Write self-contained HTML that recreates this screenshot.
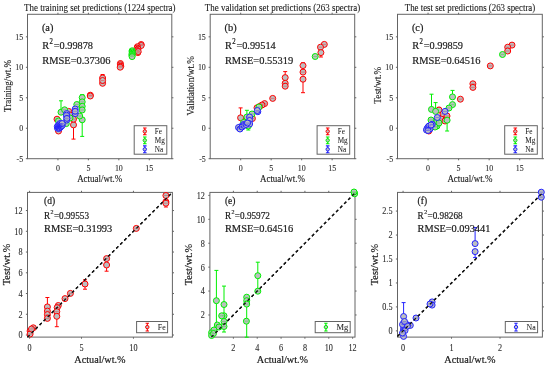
<!DOCTYPE html>
<html><head><meta charset="utf-8"><style>
html,body{margin:0;padding:0;background:#fff;width:550px;height:369px;overflow:hidden}
</style></head><body>
<svg width="550" height="369" viewBox="0 0 550 369" style="display:block;will-change:transform">
<rect width="550" height="369" fill="#fff"/>
<g font-family='"Liberation Serif", serif'>
<text x="99.80" y="11.00" font-size="10.0" text-anchor="middle" fill="#1a1a1a" stroke="#1a1a1a" stroke-width="0.1" textLength="151.5" lengthAdjust="spacingAndGlyphs" >The training set predictions (1224 spectra)</text>
<text x="282.50" y="11.00" font-size="10.0" text-anchor="middle" fill="#1a1a1a" stroke="#1a1a1a" stroke-width="0.1" textLength="155.5" lengthAdjust="spacingAndGlyphs" >The validation set predictions (263 spectra)</text>
<text x="470.00" y="11.00" font-size="10.0" text-anchor="middle" fill="#1a1a1a" stroke="#1a1a1a" stroke-width="0.1" textLength="130.5" lengthAdjust="spacingAndGlyphs" >The test set predictions (263 spectra)</text>
<rect x="27.5" y="14.3" width="144.30" height="144.40" fill="none" stroke="#646464" stroke-width="1"/>
<path d="M57.94 158.7 v1.6 M57.94 14.3 v-1.6" stroke="#646464" stroke-width="1"/>
<text x="57.94" y="171.30" font-size="8.6" text-anchor="middle" fill="#2a2a2a" stroke="#2a2a2a" stroke-width="0.1" textLength="3.96" lengthAdjust="spacingAndGlyphs" >0</text>
<path d="M88.39 158.7 v1.6 M88.39 14.3 v-1.6" stroke="#646464" stroke-width="1"/>
<text x="88.39" y="171.30" font-size="8.6" text-anchor="middle" fill="#2a2a2a" stroke="#2a2a2a" stroke-width="0.1" textLength="3.96" lengthAdjust="spacingAndGlyphs" >5</text>
<path d="M118.83 158.7 v1.6 M118.83 14.3 v-1.6" stroke="#646464" stroke-width="1"/>
<text x="118.83" y="171.30" font-size="8.6" text-anchor="middle" fill="#2a2a2a" stroke="#2a2a2a" stroke-width="0.1" textLength="7.91" lengthAdjust="spacingAndGlyphs" >10</text>
<path d="M149.27 158.7 v1.6 M149.27 14.3 v-1.6" stroke="#646464" stroke-width="1"/>
<text x="149.27" y="171.30" font-size="8.6" text-anchor="middle" fill="#2a2a2a" stroke="#2a2a2a" stroke-width="0.1" textLength="7.91" lengthAdjust="spacingAndGlyphs" >15</text>
<path d="M27.5 158.70 h-1.6 M171.8 158.70 h1.6" stroke="#646464" stroke-width="1"/>
<text x="23.10" y="161.60" font-size="8.6" text-anchor="end" fill="#2a2a2a" stroke="#2a2a2a" stroke-width="0.1" textLength="6.59" lengthAdjust="spacingAndGlyphs" >-5</text>
<path d="M27.5 128.24 h-1.6 M171.8 128.24 h1.6" stroke="#646464" stroke-width="1"/>
<text x="23.10" y="131.14" font-size="8.6" text-anchor="end" fill="#2a2a2a" stroke="#2a2a2a" stroke-width="0.1" textLength="3.96" lengthAdjust="spacingAndGlyphs" >0</text>
<path d="M27.5 97.77 h-1.6 M171.8 97.77 h1.6" stroke="#646464" stroke-width="1"/>
<text x="23.10" y="100.67" font-size="8.6" text-anchor="end" fill="#2a2a2a" stroke="#2a2a2a" stroke-width="0.1" textLength="3.96" lengthAdjust="spacingAndGlyphs" >5</text>
<path d="M27.5 67.31 h-1.6 M171.8 67.31 h1.6" stroke="#646464" stroke-width="1"/>
<text x="23.10" y="70.21" font-size="8.6" text-anchor="end" fill="#2a2a2a" stroke="#2a2a2a" stroke-width="0.1" textLength="7.91" lengthAdjust="spacingAndGlyphs" >10</text>
<path d="M27.5 36.84 h-1.6 M171.8 36.84 h1.6" stroke="#646464" stroke-width="1"/>
<text x="23.10" y="39.74" font-size="8.6" text-anchor="end" fill="#2a2a2a" stroke="#2a2a2a" stroke-width="0.1" textLength="7.91" lengthAdjust="spacingAndGlyphs" >15</text>
<rect x="210.2" y="14.3" width="144.50" height="144.40" fill="none" stroke="#646464" stroke-width="1"/>
<path d="M240.69 158.7 v1.6 M240.69 14.3 v-1.6" stroke="#646464" stroke-width="1"/>
<text x="240.69" y="171.30" font-size="8.6" text-anchor="middle" fill="#2a2a2a" stroke="#2a2a2a" stroke-width="0.1" textLength="3.96" lengthAdjust="spacingAndGlyphs" >0</text>
<path d="M271.17 158.7 v1.6 M271.17 14.3 v-1.6" stroke="#646464" stroke-width="1"/>
<text x="271.17" y="171.30" font-size="8.6" text-anchor="middle" fill="#2a2a2a" stroke="#2a2a2a" stroke-width="0.1" textLength="3.96" lengthAdjust="spacingAndGlyphs" >5</text>
<path d="M301.66 158.7 v1.6 M301.66 14.3 v-1.6" stroke="#646464" stroke-width="1"/>
<text x="301.66" y="171.30" font-size="8.6" text-anchor="middle" fill="#2a2a2a" stroke="#2a2a2a" stroke-width="0.1" textLength="7.91" lengthAdjust="spacingAndGlyphs" >10</text>
<path d="M332.14 158.7 v1.6 M332.14 14.3 v-1.6" stroke="#646464" stroke-width="1"/>
<text x="332.14" y="171.30" font-size="8.6" text-anchor="middle" fill="#2a2a2a" stroke="#2a2a2a" stroke-width="0.1" textLength="7.91" lengthAdjust="spacingAndGlyphs" >15</text>
<path d="M210.2 158.70 h-1.6 M354.7 158.70 h1.6" stroke="#646464" stroke-width="1"/>
<text x="205.80" y="161.60" font-size="8.6" text-anchor="end" fill="#2a2a2a" stroke="#2a2a2a" stroke-width="0.1" textLength="6.59" lengthAdjust="spacingAndGlyphs" >-5</text>
<path d="M210.2 128.24 h-1.6 M354.7 128.24 h1.6" stroke="#646464" stroke-width="1"/>
<text x="205.80" y="131.14" font-size="8.6" text-anchor="end" fill="#2a2a2a" stroke="#2a2a2a" stroke-width="0.1" textLength="3.96" lengthAdjust="spacingAndGlyphs" >0</text>
<path d="M210.2 97.77 h-1.6 M354.7 97.77 h1.6" stroke="#646464" stroke-width="1"/>
<text x="205.80" y="100.67" font-size="8.6" text-anchor="end" fill="#2a2a2a" stroke="#2a2a2a" stroke-width="0.1" textLength="3.96" lengthAdjust="spacingAndGlyphs" >5</text>
<path d="M210.2 67.31 h-1.6 M354.7 67.31 h1.6" stroke="#646464" stroke-width="1"/>
<text x="205.80" y="70.21" font-size="8.6" text-anchor="end" fill="#2a2a2a" stroke="#2a2a2a" stroke-width="0.1" textLength="7.91" lengthAdjust="spacingAndGlyphs" >10</text>
<path d="M210.2 36.84 h-1.6 M354.7 36.84 h1.6" stroke="#646464" stroke-width="1"/>
<text x="205.80" y="39.74" font-size="8.6" text-anchor="end" fill="#2a2a2a" stroke="#2a2a2a" stroke-width="0.1" textLength="7.91" lengthAdjust="spacingAndGlyphs" >15</text>
<rect x="397.5" y="14.3" width="144.80" height="144.40" fill="none" stroke="#646464" stroke-width="1"/>
<path d="M428.05 158.7 v1.6 M428.05 14.3 v-1.6" stroke="#646464" stroke-width="1"/>
<text x="428.05" y="171.30" font-size="8.6" text-anchor="middle" fill="#2a2a2a" stroke="#2a2a2a" stroke-width="0.1" textLength="3.96" lengthAdjust="spacingAndGlyphs" >0</text>
<path d="M458.60 158.7 v1.6 M458.60 14.3 v-1.6" stroke="#646464" stroke-width="1"/>
<text x="458.60" y="171.30" font-size="8.6" text-anchor="middle" fill="#2a2a2a" stroke="#2a2a2a" stroke-width="0.1" textLength="3.96" lengthAdjust="spacingAndGlyphs" >5</text>
<path d="M489.15 158.7 v1.6 M489.15 14.3 v-1.6" stroke="#646464" stroke-width="1"/>
<text x="489.15" y="171.30" font-size="8.6" text-anchor="middle" fill="#2a2a2a" stroke="#2a2a2a" stroke-width="0.1" textLength="7.91" lengthAdjust="spacingAndGlyphs" >10</text>
<path d="M519.69 158.7 v1.6 M519.69 14.3 v-1.6" stroke="#646464" stroke-width="1"/>
<text x="519.69" y="171.30" font-size="8.6" text-anchor="middle" fill="#2a2a2a" stroke="#2a2a2a" stroke-width="0.1" textLength="7.91" lengthAdjust="spacingAndGlyphs" >15</text>
<path d="M397.5 158.70 h-1.6 M542.3 158.70 h1.6" stroke="#646464" stroke-width="1"/>
<text x="393.10" y="161.60" font-size="8.6" text-anchor="end" fill="#2a2a2a" stroke="#2a2a2a" stroke-width="0.1" textLength="6.59" lengthAdjust="spacingAndGlyphs" >-5</text>
<path d="M397.5 128.24 h-1.6 M542.3 128.24 h1.6" stroke="#646464" stroke-width="1"/>
<text x="393.10" y="131.14" font-size="8.6" text-anchor="end" fill="#2a2a2a" stroke="#2a2a2a" stroke-width="0.1" textLength="3.96" lengthAdjust="spacingAndGlyphs" >0</text>
<path d="M397.5 97.77 h-1.6 M542.3 97.77 h1.6" stroke="#646464" stroke-width="1"/>
<text x="393.10" y="100.67" font-size="8.6" text-anchor="end" fill="#2a2a2a" stroke="#2a2a2a" stroke-width="0.1" textLength="3.96" lengthAdjust="spacingAndGlyphs" >5</text>
<path d="M397.5 67.31 h-1.6 M542.3 67.31 h1.6" stroke="#646464" stroke-width="1"/>
<text x="393.10" y="70.21" font-size="8.6" text-anchor="end" fill="#2a2a2a" stroke="#2a2a2a" stroke-width="0.1" textLength="7.91" lengthAdjust="spacingAndGlyphs" >10</text>
<path d="M397.5 36.84 h-1.6 M542.3 36.84 h1.6" stroke="#646464" stroke-width="1"/>
<text x="393.10" y="39.74" font-size="8.6" text-anchor="end" fill="#2a2a2a" stroke="#2a2a2a" stroke-width="0.1" textLength="7.91" lengthAdjust="spacingAndGlyphs" >15</text>
<rect x="27.5" y="192.4" width="144.90" height="144.70" fill="none" stroke="#646464" stroke-width="1"/>
<path d="M29.58 337.1 v1.6 M29.58 192.4 v-1.6" stroke="#646464" stroke-width="1"/>
<text x="29.58" y="350.60" font-size="9.5" text-anchor="middle" fill="#2a2a2a" stroke="#2a2a2a" stroke-width="0.1" textLength="4.08" lengthAdjust="spacingAndGlyphs" >0</text>
<path d="M81.51 337.1 v1.6 M81.51 192.4 v-1.6" stroke="#646464" stroke-width="1"/>
<text x="81.51" y="350.60" font-size="9.5" text-anchor="middle" fill="#2a2a2a" stroke="#2a2a2a" stroke-width="0.1" textLength="4.08" lengthAdjust="spacingAndGlyphs" >5</text>
<path d="M133.45 337.1 v1.6 M133.45 192.4 v-1.6" stroke="#646464" stroke-width="1"/>
<text x="133.45" y="350.60" font-size="9.5" text-anchor="middle" fill="#2a2a2a" stroke="#2a2a2a" stroke-width="0.1" textLength="8.17" lengthAdjust="spacingAndGlyphs" >10</text>
<path d="M27.5 335.03 h-1.6 M172.4 335.03 h1.6" stroke="#646464" stroke-width="1"/>
<text x="22.50" y="338.43" font-size="9.5" text-anchor="end" fill="#2a2a2a" stroke="#2a2a2a" stroke-width="0.1" textLength="4.08" lengthAdjust="spacingAndGlyphs" >0</text>
<path d="M27.5 314.28 h-1.6 M172.4 314.28 h1.6" stroke="#646464" stroke-width="1"/>
<text x="22.50" y="317.68" font-size="9.5" text-anchor="end" fill="#2a2a2a" stroke="#2a2a2a" stroke-width="0.1" textLength="4.08" lengthAdjust="spacingAndGlyphs" >2</text>
<path d="M27.5 293.53 h-1.6 M172.4 293.53 h1.6" stroke="#646464" stroke-width="1"/>
<text x="22.50" y="296.93" font-size="9.5" text-anchor="end" fill="#2a2a2a" stroke="#2a2a2a" stroke-width="0.1" textLength="4.08" lengthAdjust="spacingAndGlyphs" >4</text>
<path d="M27.5 272.79 h-1.6 M172.4 272.79 h1.6" stroke="#646464" stroke-width="1"/>
<text x="22.50" y="276.19" font-size="9.5" text-anchor="end" fill="#2a2a2a" stroke="#2a2a2a" stroke-width="0.1" textLength="4.08" lengthAdjust="spacingAndGlyphs" >6</text>
<path d="M27.5 252.04 h-1.6 M172.4 252.04 h1.6" stroke="#646464" stroke-width="1"/>
<text x="22.50" y="255.44" font-size="9.5" text-anchor="end" fill="#2a2a2a" stroke="#2a2a2a" stroke-width="0.1" textLength="4.08" lengthAdjust="spacingAndGlyphs" >8</text>
<path d="M27.5 231.30 h-1.6 M172.4 231.30 h1.6" stroke="#646464" stroke-width="1"/>
<text x="22.50" y="234.70" font-size="9.5" text-anchor="end" fill="#2a2a2a" stroke="#2a2a2a" stroke-width="0.1" textLength="8.17" lengthAdjust="spacingAndGlyphs" >10</text>
<path d="M27.5 210.55 h-1.6 M172.4 210.55 h1.6" stroke="#646464" stroke-width="1"/>
<text x="22.50" y="213.95" font-size="9.5" text-anchor="end" fill="#2a2a2a" stroke="#2a2a2a" stroke-width="0.1" textLength="8.17" lengthAdjust="spacingAndGlyphs" >12</text>
<rect x="209.9" y="192.4" width="145.10" height="144.70" fill="none" stroke="#646464" stroke-width="1"/>
<path d="M233.39 337.1 v1.6 M233.39 192.4 v-1.6" stroke="#646464" stroke-width="1"/>
<text x="233.39" y="350.60" font-size="9.5" text-anchor="middle" fill="#2a2a2a" stroke="#2a2a2a" stroke-width="0.1" textLength="4.08" lengthAdjust="spacingAndGlyphs" >2</text>
<path d="M257.23 337.1 v1.6 M257.23 192.4 v-1.6" stroke="#646464" stroke-width="1"/>
<text x="257.23" y="350.60" font-size="9.5" text-anchor="middle" fill="#2a2a2a" stroke="#2a2a2a" stroke-width="0.1" textLength="4.08" lengthAdjust="spacingAndGlyphs" >4</text>
<path d="M281.08 337.1 v1.6 M281.08 192.4 v-1.6" stroke="#646464" stroke-width="1"/>
<text x="281.08" y="350.60" font-size="9.5" text-anchor="middle" fill="#2a2a2a" stroke="#2a2a2a" stroke-width="0.1" textLength="4.08" lengthAdjust="spacingAndGlyphs" >6</text>
<path d="M304.92 337.1 v1.6 M304.92 192.4 v-1.6" stroke="#646464" stroke-width="1"/>
<text x="304.92" y="350.60" font-size="9.5" text-anchor="middle" fill="#2a2a2a" stroke="#2a2a2a" stroke-width="0.1" textLength="4.08" lengthAdjust="spacingAndGlyphs" >8</text>
<path d="M328.77 337.1 v1.6 M328.77 192.4 v-1.6" stroke="#646464" stroke-width="1"/>
<text x="328.77" y="350.60" font-size="9.5" text-anchor="middle" fill="#2a2a2a" stroke="#2a2a2a" stroke-width="0.1" textLength="8.17" lengthAdjust="spacingAndGlyphs" >10</text>
<path d="M352.62 337.1 v1.6 M352.62 192.4 v-1.6" stroke="#646464" stroke-width="1"/>
<text x="352.62" y="350.60" font-size="9.5" text-anchor="middle" fill="#2a2a2a" stroke="#2a2a2a" stroke-width="0.1" textLength="8.17" lengthAdjust="spacingAndGlyphs" >12</text>
<path d="M209.9 314.98 h-1.6 M355.0 314.98 h1.6" stroke="#646464" stroke-width="1"/>
<text x="204.90" y="318.38" font-size="9.5" text-anchor="end" fill="#2a2a2a" stroke="#2a2a2a" stroke-width="0.1" textLength="4.08" lengthAdjust="spacingAndGlyphs" >2</text>
<path d="M209.9 291.06 h-1.6 M355.0 291.06 h1.6" stroke="#646464" stroke-width="1"/>
<text x="204.90" y="294.46" font-size="9.5" text-anchor="end" fill="#2a2a2a" stroke="#2a2a2a" stroke-width="0.1" textLength="4.08" lengthAdjust="spacingAndGlyphs" >4</text>
<path d="M209.9 267.14 h-1.6 M355.0 267.14 h1.6" stroke="#646464" stroke-width="1"/>
<text x="204.90" y="270.54" font-size="9.5" text-anchor="end" fill="#2a2a2a" stroke="#2a2a2a" stroke-width="0.1" textLength="4.08" lengthAdjust="spacingAndGlyphs" >6</text>
<path d="M209.9 243.22 h-1.6 M355.0 243.22 h1.6" stroke="#646464" stroke-width="1"/>
<text x="204.90" y="246.62" font-size="9.5" text-anchor="end" fill="#2a2a2a" stroke="#2a2a2a" stroke-width="0.1" textLength="4.08" lengthAdjust="spacingAndGlyphs" >8</text>
<path d="M209.9 219.31 h-1.6 M355.0 219.31 h1.6" stroke="#646464" stroke-width="1"/>
<text x="204.90" y="222.71" font-size="9.5" text-anchor="end" fill="#2a2a2a" stroke="#2a2a2a" stroke-width="0.1" textLength="8.17" lengthAdjust="spacingAndGlyphs" >10</text>
<path d="M209.9 195.39 h-1.6 M355.0 195.39 h1.6" stroke="#646464" stroke-width="1"/>
<text x="204.90" y="198.79" font-size="9.5" text-anchor="end" fill="#2a2a2a" stroke="#2a2a2a" stroke-width="0.1" textLength="8.17" lengthAdjust="spacingAndGlyphs" >12</text>
<rect x="397.5" y="192.4" width="144.90" height="144.70" fill="none" stroke="#646464" stroke-width="1"/>
<path d="M403.07 337.1 v1.6 M403.07 192.4 v-1.6" stroke="#646464" stroke-width="1"/>
<text x="403.07" y="350.60" font-size="9.5" text-anchor="middle" fill="#2a2a2a" stroke="#2a2a2a" stroke-width="0.1" textLength="4.08" lengthAdjust="spacingAndGlyphs" >0</text>
<path d="M451.53 337.1 v1.6 M451.53 192.4 v-1.6" stroke="#646464" stroke-width="1"/>
<text x="451.53" y="350.60" font-size="9.5" text-anchor="middle" fill="#2a2a2a" stroke="#2a2a2a" stroke-width="0.1" textLength="4.08" lengthAdjust="spacingAndGlyphs" >1</text>
<path d="M500.00 337.1 v1.6 M500.00 192.4 v-1.6" stroke="#646464" stroke-width="1"/>
<text x="500.00" y="350.60" font-size="9.5" text-anchor="middle" fill="#2a2a2a" stroke="#2a2a2a" stroke-width="0.1" textLength="4.08" lengthAdjust="spacingAndGlyphs" >2</text>
<path d="M397.5 330.87 h-1.6 M542.4 330.87 h1.6" stroke="#646464" stroke-width="1"/>
<text x="392.50" y="334.27" font-size="9.5" text-anchor="end" fill="#2a2a2a" stroke="#2a2a2a" stroke-width="0.1" textLength="4.08" lengthAdjust="spacingAndGlyphs" >0</text>
<path d="M397.5 306.91 h-1.6 M542.4 306.91 h1.6" stroke="#646464" stroke-width="1"/>
<text x="392.50" y="310.31" font-size="9.5" text-anchor="end" fill="#2a2a2a" stroke="#2a2a2a" stroke-width="0.1" textLength="10.21" lengthAdjust="spacingAndGlyphs" >0.5</text>
<path d="M397.5 282.96 h-1.6 M542.4 282.96 h1.6" stroke="#646464" stroke-width="1"/>
<text x="392.50" y="286.36" font-size="9.5" text-anchor="end" fill="#2a2a2a" stroke="#2a2a2a" stroke-width="0.1" textLength="4.08" lengthAdjust="spacingAndGlyphs" >1</text>
<path d="M397.5 259.00 h-1.6 M542.4 259.00 h1.6" stroke="#646464" stroke-width="1"/>
<text x="392.50" y="262.40" font-size="9.5" text-anchor="end" fill="#2a2a2a" stroke="#2a2a2a" stroke-width="0.1" textLength="10.21" lengthAdjust="spacingAndGlyphs" >1.5</text>
<path d="M397.5 235.04 h-1.6 M542.4 235.04 h1.6" stroke="#646464" stroke-width="1"/>
<text x="392.50" y="238.44" font-size="9.5" text-anchor="end" fill="#2a2a2a" stroke="#2a2a2a" stroke-width="0.1" textLength="4.08" lengthAdjust="spacingAndGlyphs" >2</text>
<path d="M397.5 211.09 h-1.6 M542.4 211.09 h1.6" stroke="#646464" stroke-width="1"/>
<text x="392.50" y="214.49" font-size="9.5" text-anchor="end" fill="#2a2a2a" stroke="#2a2a2a" stroke-width="0.1" textLength="10.21" lengthAdjust="spacingAndGlyphs" >2.5</text>
<text x="99.65" y="182.40" font-size="9.4" text-anchor="middle" fill="#1a1a1a" stroke="#1a1a1a" stroke-width="0.12" textLength="45" lengthAdjust="spacingAndGlyphs" >Actual/wt.%</text>
<text x="282.45" y="182.40" font-size="9.4" text-anchor="middle" fill="#1a1a1a" stroke="#1a1a1a" stroke-width="0.12" textLength="45" lengthAdjust="spacingAndGlyphs" >Actual/wt.%</text>
<text x="469.90" y="182.40" font-size="9.4" text-anchor="middle" fill="#1a1a1a" stroke="#1a1a1a" stroke-width="0.12" textLength="45" lengthAdjust="spacingAndGlyphs" >Actual/wt.%</text>
<text x="99.95" y="362.60" font-size="10.2" text-anchor="middle" fill="#1a1a1a" stroke="#1a1a1a" stroke-width="0.2" textLength="51.2" lengthAdjust="spacingAndGlyphs" >Actual/wt.%</text>
<text x="282.45" y="362.60" font-size="10.2" text-anchor="middle" fill="#1a1a1a" stroke="#1a1a1a" stroke-width="0.2" textLength="51.2" lengthAdjust="spacingAndGlyphs" >Actual/wt.%</text>
<text x="469.95" y="362.60" font-size="10.2" text-anchor="middle" fill="#1a1a1a" stroke="#1a1a1a" stroke-width="0.2" textLength="51.2" lengthAdjust="spacingAndGlyphs" >Actual/wt.%</text>
<text x="10.80" y="86.00" font-size="9.4" text-anchor="middle" fill="#1a1a1a" stroke="#1a1a1a" stroke-width="0.12" textLength="52" lengthAdjust="spacingAndGlyphs" transform="rotate(-90 10.80 86.00)" >Training/wt.%</text>
<text x="193.60" y="85.80" font-size="9.4" text-anchor="middle" fill="#1a1a1a" stroke="#1a1a1a" stroke-width="0.12" textLength="59.5" lengthAdjust="spacingAndGlyphs" transform="rotate(-90 193.60 85.80)" >Validation/wt.%</text>
<text x="381.00" y="85.20" font-size="9.4" text-anchor="middle" fill="#1a1a1a" stroke="#1a1a1a" stroke-width="0.12" textLength="37" lengthAdjust="spacingAndGlyphs" transform="rotate(-90 381.00 85.20)" >Test/wt.%</text>
<text x="9.60" y="264.50" font-size="10" text-anchor="middle" fill="#1a1a1a" stroke="#1a1a1a" stroke-width="0.2" textLength="41.5" lengthAdjust="spacingAndGlyphs" transform="rotate(-90 9.60 264.50)" >Test/wt.%</text>
<text x="191.80" y="264.50" font-size="10" text-anchor="middle" fill="#1a1a1a" stroke="#1a1a1a" stroke-width="0.2" textLength="41.5" lengthAdjust="spacingAndGlyphs" transform="rotate(-90 191.80 264.50)" >Test/wt.%</text>
<text x="377.60" y="264.50" font-size="10" text-anchor="middle" fill="#1a1a1a" stroke="#1a1a1a" stroke-width="0.2" textLength="41.5" lengthAdjust="spacingAndGlyphs" transform="rotate(-90 377.60 264.50)" >Test/wt.%</text>
<path d="M102.60 74.50 V78.00 M100.60 74.50 h4.0 M100.60 78.00 h4.0 M73.50 124.90 V139.10 M71.50 124.90 h4.0 M71.50 139.10 h4.0" stroke="#ff0000" stroke-width="1" fill="none"/>
<g fill="#bcbfc1" stroke="#ff0000" stroke-width="1.0"><circle cx="141.20" cy="44.50" r="3.0"/><circle cx="141.20" cy="45.50" r="3.0"/><circle cx="137.50" cy="46.70" r="3.0"/><circle cx="137.00" cy="48.00" r="3.0"/><circle cx="138.00" cy="49.00" r="3.0"/><circle cx="137.50" cy="50.50" r="3.0"/><circle cx="137.80" cy="52.60" r="3.0"/><circle cx="138.20" cy="51.50" r="3.0"/><circle cx="120.40" cy="63.50" r="3.0"/><circle cx="120.40" cy="64.80" r="3.0"/><circle cx="120.80" cy="66.20" r="3.0"/><circle cx="120.20" cy="67.20" r="3.0"/><circle cx="102.60" cy="78.00" r="3.0"/><circle cx="102.60" cy="83.30" r="3.0"/><circle cx="102.60" cy="80.50" r="3.0"/><circle cx="90.30" cy="95.20" r="3.0"/><circle cx="90.30" cy="96.00" r="3.0"/><circle cx="73.50" cy="124.90" r="3.0"/><circle cx="73.50" cy="119.20" r="3.0"/><circle cx="68.70" cy="111.40" r="3.0"/><circle cx="70.00" cy="115.00" r="3.0"/><circle cx="57.00" cy="119.20" r="3.0"/><circle cx="58.50" cy="131.00" r="3.0"/><circle cx="62.00" cy="124.00" r="3.0"/></g>
<path d="M139.20 44.50 h4.0 M139.20 45.50 h4.0 M135.50 46.70 h4.0 M135.00 48.00 h4.0 M136.00 49.00 h4.0 M135.50 50.50 h4.0 M135.80 52.60 h4.0 M136.20 51.50 h4.0 M118.40 63.50 h4.0 M118.40 64.80 h4.0 M118.80 66.20 h4.0 M118.20 67.20 h4.0 M100.60 83.30 h4.0 M100.60 80.50 h4.0 M88.30 95.20 h4.0 M88.30 96.00 h4.0 M71.50 119.20 h4.0 M66.70 111.40 h4.0 M68.00 115.00 h4.0 M55.00 119.20 h4.0 M56.50 131.00 h4.0 M60.00 124.00 h4.0" stroke="#ff0000" stroke-width="0.9" stroke-opacity="0.4" fill="none"/>
<path d="M82.20 94.50 V97.60 M80.20 94.50 h4.0 M80.20 97.60 h4.0 M82.20 119.80 V136.40 M80.20 119.80 h4.0 M80.20 136.40 h4.0 M61.00 100.80 V112.20 M59.00 100.80 h4.0 M59.00 112.20 h4.0" stroke="#00f000" stroke-width="1" fill="none"/>
<g fill="#bcbfc1" stroke="#00f000" stroke-width="1.0"><circle cx="132.10" cy="50.80" r="3.0"/><circle cx="132.10" cy="52.00" r="3.0"/><circle cx="132.30" cy="53.20" r="3.0"/><circle cx="131.90" cy="54.40" r="3.0"/><circle cx="132.10" cy="55.60" r="3.0"/><circle cx="132.10" cy="56.60" r="3.0"/><circle cx="82.20" cy="97.60" r="3.0"/><circle cx="82.20" cy="101.90" r="3.0"/><circle cx="82.20" cy="106.30" r="3.0"/><circle cx="82.20" cy="110.00" r="3.0"/><circle cx="82.20" cy="119.80" r="3.0"/><circle cx="61.00" cy="112.20" r="3.0"/><circle cx="64.60" cy="109.80" r="3.0"/><circle cx="76.80" cy="104.50" r="3.0"/><circle cx="66.30" cy="123.60" r="3.0"/><circle cx="79.70" cy="116.00" r="3.0"/><circle cx="58.50" cy="121.00" r="3.0"/><circle cx="70.00" cy="118.00" r="3.0"/></g>
<path d="M130.10 50.80 h4.0 M130.10 52.00 h4.0 M130.30 53.20 h4.0 M129.90 54.40 h4.0 M130.10 55.60 h4.0 M130.10 56.60 h4.0 M80.20 101.90 h4.0 M80.20 106.30 h4.0 M80.20 110.00 h4.0 M62.60 109.80 h4.0 M74.80 104.50 h4.0 M64.30 123.60 h4.0 M77.70 116.00 h4.0 M56.50 121.00 h4.0 M68.00 118.00 h4.0" stroke="#00f000" stroke-width="0.9" stroke-opacity="0.4" fill="none"/>
<g fill="#bcbfc1" stroke="#2222ff" stroke-width="1.0"><circle cx="66.70" cy="113.60" r="3.0"/><circle cx="66.70" cy="116.80" r="3.0"/><circle cx="66.70" cy="120.00" r="3.0"/><circle cx="66.50" cy="115.20" r="3.0"/><circle cx="66.90" cy="118.40" r="3.0"/><circle cx="75.20" cy="109.00" r="3.0"/><circle cx="75.20" cy="113.60" r="3.0"/><circle cx="75.20" cy="111.30" r="3.0"/><circle cx="57.47" cy="128.23" r="3.0"/><circle cx="57.33" cy="126.54" r="3.0"/><circle cx="58.24" cy="127.46" r="3.0"/><circle cx="59.16" cy="128.37" r="3.0"/><circle cx="58.10" cy="125.76" r="3.0"/><circle cx="59.02" cy="126.68" r="3.0"/><circle cx="59.94" cy="127.60" r="3.0"/><circle cx="58.88" cy="124.98" r="3.0"/><circle cx="59.80" cy="125.90" r="3.0"/><circle cx="60.72" cy="126.82" r="3.0"/><circle cx="59.66" cy="124.20" r="3.0"/><circle cx="60.58" cy="125.12" r="3.0"/><circle cx="61.50" cy="126.04" r="3.0"/><circle cx="60.44" cy="123.43" r="3.0"/><circle cx="61.36" cy="124.34" r="3.0"/><circle cx="62.27" cy="125.26" r="3.0"/><circle cx="62.13" cy="123.57" r="3.0"/></g>
<path d="M64.70 113.60 h4.0 M64.70 116.80 h4.0 M64.70 120.00 h4.0 M64.50 115.20 h4.0 M64.90 118.40 h4.0 M73.20 109.00 h4.0 M73.20 113.60 h4.0 M73.20 111.30 h4.0 M55.47 128.23 h4.0 M55.33 126.54 h4.0 M56.24 127.46 h4.0 M57.16 128.37 h4.0 M56.10 125.76 h4.0 M57.02 126.68 h4.0 M57.94 127.60 h4.0 M56.88 124.98 h4.0 M57.80 125.90 h4.0 M58.72 126.82 h4.0 M57.66 124.20 h4.0 M58.58 125.12 h4.0 M59.50 126.04 h4.0 M58.44 123.43 h4.0 M59.36 124.34 h4.0 M60.27 125.26 h4.0 M60.13 123.57 h4.0" stroke="#2222ff" stroke-width="0.9" stroke-opacity="0.4" fill="none"/>
<path d="M320.90 52.60 V57.00 M318.90 52.60 h4.0 M318.90 57.00 h4.0 M303.00 62.70 V65.60 M301.00 62.70 h4.0 M301.00 65.60 h4.0 M303.00 79.20 V92.70 M301.00 79.20 h4.0 M301.00 92.70 h4.0 M285.20 71.60 V77.60 M283.20 71.60 h4.0 M283.20 77.60 h4.0 M240.60 107.90 V117.80 M238.60 107.90 h4.0 M238.60 117.80 h4.0" stroke="#ff0000" stroke-width="1" fill="none"/>
<g fill="#bcbfc1" stroke="#ff0000" stroke-width="1.0"><circle cx="324.30" cy="44.40" r="3.0"/><circle cx="320.50" cy="47.20" r="3.0"/><circle cx="320.90" cy="52.60" r="3.0"/><circle cx="303.00" cy="65.60" r="3.0"/><circle cx="303.00" cy="72.10" r="3.0"/><circle cx="303.00" cy="79.20" r="3.0"/><circle cx="285.20" cy="77.60" r="3.0"/><circle cx="285.20" cy="83.30" r="3.0"/><circle cx="285.20" cy="86.20" r="3.0"/><circle cx="272.70" cy="98.40" r="3.0"/><circle cx="264.60" cy="103.60" r="3.0"/><circle cx="262.00" cy="105.00" r="3.0"/><circle cx="259.50" cy="106.50" r="3.0"/><circle cx="257.00" cy="107.80" r="3.0"/><circle cx="240.60" cy="117.80" r="3.0"/><circle cx="252.40" cy="118.50" r="3.0"/><circle cx="246.00" cy="121.00" r="3.0"/></g>
<path d="M322.30 44.40 h4.0 M318.50 47.20 h4.0 M301.00 72.10 h4.0 M283.20 83.30 h4.0 M283.20 86.20 h4.0 M270.70 98.40 h4.0 M262.60 103.60 h4.0 M260.00 105.00 h4.0 M257.50 106.50 h4.0 M255.00 107.80 h4.0 M250.40 118.50 h4.0 M244.00 121.00 h4.0" stroke="#ff0000" stroke-width="0.9" stroke-opacity="0.4" fill="none"/>
<path d="M246.90 110.30 V117.00 M244.90 110.30 h4.0 M244.90 117.00 h4.0 M248.30 126.00 V130.00 M246.30 126.00 h4.0 M246.30 130.00 h4.0" stroke="#00f000" stroke-width="1" fill="none"/>
<g fill="#bcbfc1" stroke="#00f000" stroke-width="1.0"><circle cx="315.20" cy="56.50" r="3.0"/><circle cx="259.00" cy="107.00" r="3.0"/><circle cx="246.90" cy="117.00" r="3.0"/><circle cx="243.50" cy="122.50" r="3.0"/><circle cx="248.30" cy="126.00" r="3.0"/><circle cx="252.00" cy="114.00" r="3.0"/></g>
<path d="M313.20 56.50 h4.0 M257.00 107.00 h4.0 M241.50 122.50 h4.0 M250.00 114.00 h4.0" stroke="#00f000" stroke-width="0.9" stroke-opacity="0.4" fill="none"/>
<g fill="#bcbfc1" stroke="#2222ff" stroke-width="1.0"><circle cx="257.80" cy="111.70" r="3.0"/><circle cx="257.30" cy="110.50" r="3.0"/><circle cx="249.60" cy="117.00" r="3.0"/><circle cx="249.60" cy="120.50" r="3.0"/><circle cx="249.60" cy="124.00" r="3.0"/><circle cx="240.80" cy="126.60" r="3.0"/><circle cx="243.50" cy="124.50" r="3.0"/><circle cx="239.50" cy="128.00" r="3.0"/><circle cx="238.50" cy="127.50" r="3.0"/><circle cx="240.00" cy="129.00" r="3.0"/><circle cx="242.00" cy="127.00" r="3.0"/><circle cx="244.00" cy="125.50" r="3.0"/><circle cx="246.00" cy="124.50" r="3.0"/><circle cx="247.50" cy="123.00" r="3.0"/></g>
<path d="M255.80 111.70 h4.0 M255.30 110.50 h4.0 M247.60 117.00 h4.0 M247.60 120.50 h4.0 M247.60 124.00 h4.0 M238.80 126.60 h4.0 M241.50 124.50 h4.0 M237.50 128.00 h4.0 M236.50 127.50 h4.0 M238.00 129.00 h4.0 M240.00 127.00 h4.0 M242.00 125.50 h4.0 M244.00 124.50 h4.0 M245.50 123.00 h4.0" stroke="#2222ff" stroke-width="0.9" stroke-opacity="0.4" fill="none"/>
<path d="M439.00 107.40 V110.00 M437.00 107.40 h4.0 M437.00 110.00 h4.0" stroke="#ff0000" stroke-width="1" fill="none"/>
<g fill="#bcbfc1" stroke="#ff0000" stroke-width="1.0"><circle cx="512.00" cy="45.10" r="3.0"/><circle cx="507.70" cy="47.20" r="3.0"/><circle cx="507.70" cy="51.00" r="3.0"/><circle cx="490.30" cy="65.90" r="3.0"/><circle cx="472.90" cy="83.80" r="3.0"/><circle cx="472.90" cy="87.40" r="3.0"/><circle cx="460.40" cy="99.20" r="3.0"/><circle cx="439.00" cy="110.00" r="3.0"/><circle cx="443.00" cy="114.00" r="3.0"/><circle cx="447.00" cy="116.00" r="3.0"/><circle cx="441.00" cy="119.00" r="3.0"/><circle cx="428.80" cy="131.00" r="3.0"/><circle cx="445.00" cy="121.00" r="3.0"/></g>
<path d="M510.00 45.10 h4.0 M505.70 47.20 h4.0 M505.70 51.00 h4.0 M488.30 65.90 h4.0 M470.90 83.80 h4.0 M470.90 87.40 h4.0 M458.40 99.20 h4.0 M441.00 114.00 h4.0 M445.00 116.00 h4.0 M439.00 119.00 h4.0 M426.80 131.00 h4.0 M443.00 121.00 h4.0" stroke="#ff0000" stroke-width="0.9" stroke-opacity="0.4" fill="none"/>
<path d="M452.50 90.40 V96.90 M450.50 90.40 h4.0 M450.50 96.90 h4.0 M431.50 94.20 V109.40 M429.50 94.20 h4.0 M429.50 109.40 h4.0 M435.60 102.60 V111.40 M433.60 102.60 h4.0 M433.60 111.40 h4.0 M447.10 120.20 V131.00 M445.10 120.20 h4.0 M445.10 131.00 h4.0" stroke="#00f000" stroke-width="1" fill="none"/>
<g fill="#bcbfc1" stroke="#00f000" stroke-width="1.0"><circle cx="502.50" cy="54.50" r="3.0"/><circle cx="452.50" cy="96.90" r="3.0"/><circle cx="452.50" cy="104.60" r="3.0"/><circle cx="431.50" cy="109.40" r="3.0"/><circle cx="435.60" cy="111.40" r="3.0"/><circle cx="447.10" cy="120.20" r="3.0"/><circle cx="434.90" cy="123.00" r="3.0"/><circle cx="449.00" cy="108.00" r="3.0"/><circle cx="431.00" cy="120.00" r="3.0"/><circle cx="437.00" cy="126.00" r="3.0"/><circle cx="437.00" cy="121.00" r="3.0"/><circle cx="439.00" cy="123.00" r="3.0"/><circle cx="435.00" cy="127.00" r="3.0"/></g>
<path d="M500.50 54.50 h4.0 M450.50 104.60 h4.0 M432.90 123.00 h4.0 M447.00 108.00 h4.0 M429.00 120.00 h4.0 M435.00 126.00 h4.0 M435.00 121.00 h4.0 M437.00 123.00 h4.0 M433.00 127.00 h4.0" stroke="#00f000" stroke-width="0.9" stroke-opacity="0.4" fill="none"/>
<g fill="#bcbfc1" stroke="#2222ff" stroke-width="1.0"><circle cx="445.00" cy="111.40" r="3.0"/><circle cx="437.30" cy="117.50" r="3.0"/><circle cx="432.20" cy="124.30" r="3.0"/><circle cx="428.10" cy="127.00" r="3.0"/><circle cx="430.00" cy="129.00" r="3.0"/><circle cx="427.00" cy="128.50" r="3.0"/><circle cx="429.00" cy="126.00" r="3.0"/><circle cx="431.00" cy="125.00" r="3.0"/><circle cx="426.50" cy="130.00" r="3.0"/><circle cx="428.00" cy="130.50" r="3.0"/></g>
<path d="M443.00 111.40 h4.0 M435.30 117.50 h4.0 M430.20 124.30 h4.0 M426.10 127.00 h4.0 M428.00 129.00 h4.0 M425.00 128.50 h4.0 M427.00 126.00 h4.0 M429.00 125.00 h4.0 M424.50 130.00 h4.0 M426.00 130.50 h4.0" stroke="#2222ff" stroke-width="0.9" stroke-opacity="0.4" fill="none"/>
<line x1="27.50" y1="337.10" x2="172.40" y2="192.40" stroke="#111" stroke-width="1.3" stroke-dasharray="3 2.7"/>
<line x1="211.33" y1="337.10" x2="355.00" y2="193.00" stroke="#111" stroke-width="1.3" stroke-dasharray="3 2.7"/>
<line x1="397.50" y1="336.38" x2="542.40" y2="193.12" stroke="#111" stroke-width="1.3" stroke-dasharray="3 2.7"/>
<path d="M165.90 201.80 V207.00 M163.90 201.80 h4.0 M163.90 207.00 h4.0 M106.60 265.00 V271.20 M104.60 265.00 h4.0 M104.60 271.20 h4.0 M85.00 279.80 V289.20 M83.00 279.80 h4.0 M83.00 289.20 h4.0 M56.80 316.30 V326.70 M54.80 316.30 h4.0 M54.80 326.70 h4.0 M47.40 297.50 V306.90 M45.40 297.50 h4.0 M45.40 306.90 h4.0" stroke="#ff0000" stroke-width="1" fill="none"/>
<g fill="#bcbfc1" stroke="#ff0000" stroke-width="1.0"><circle cx="165.90" cy="195.50" r="3.0"/><circle cx="165.90" cy="201.80" r="3.0"/><circle cx="165.90" cy="203.20" r="3.0"/><circle cx="136.30" cy="228.40" r="3.0"/><circle cx="106.60" cy="258.60" r="3.0"/><circle cx="106.60" cy="265.00" r="3.0"/><circle cx="85.00" cy="284.00" r="3.0"/><circle cx="70.40" cy="293.40" r="3.0"/><circle cx="65.00" cy="298.60" r="3.0"/><circle cx="58.30" cy="305.50" r="3.0"/><circle cx="57.20" cy="307.50" r="3.0"/><circle cx="56.80" cy="311.70" r="3.0"/><circle cx="56.80" cy="316.30" r="3.0"/><circle cx="47.40" cy="306.90" r="3.0"/><circle cx="47.40" cy="311.10" r="3.0"/><circle cx="47.40" cy="314.60" r="3.0"/><circle cx="47.40" cy="318.40" r="3.0"/><circle cx="33.30" cy="327.80" r="3.0"/><circle cx="30.10" cy="331.00" r="3.0"/><circle cx="30.10" cy="334.00" r="3.0"/><circle cx="31.50" cy="329.00" r="3.0"/></g>
<path d="M163.90 195.50 h4.0 M163.90 203.20 h4.0 M134.30 228.40 h4.0 M104.60 258.60 h4.0 M68.40 293.40 h4.0 M63.00 298.60 h4.0 M56.30 305.50 h4.0 M55.20 307.50 h4.0 M54.80 311.70 h4.0 M45.40 311.10 h4.0 M45.40 314.60 h4.0 M45.40 318.40 h4.0 M31.30 327.80 h4.0 M28.10 331.00 h4.0 M28.10 334.00 h4.0 M29.50 329.00 h4.0" stroke="#ff0000" stroke-width="0.9" stroke-opacity="0.4" fill="none"/>
<path d="M257.80 262.20 V291.00 M255.80 262.20 h4.0 M255.80 291.00 h4.0 M246.70 295.60 V337.20 M244.70 295.60 h4.0 M244.70 337.20 h4.0 M216.40 270.40 V326.00 M214.40 270.40 h4.0 M214.40 326.00 h4.0 M224.00 286.10 V332.00 M222.00 286.10 h4.0 M222.00 332.00 h4.0" stroke="#00f000" stroke-width="1" fill="none"/>
<g fill="#bcbfc1" stroke="#00f000" stroke-width="1.0"><circle cx="354.30" cy="192.80" r="3.0"/><circle cx="354.60" cy="193.80" r="3.0"/><circle cx="354.00" cy="192.00" r="3.0"/><circle cx="257.80" cy="275.70" r="3.0"/><circle cx="257.80" cy="291.20" r="3.0"/><circle cx="246.70" cy="297.20" r="3.0"/><circle cx="246.70" cy="300.70" r="3.0"/><circle cx="246.70" cy="304.10" r="3.0"/><circle cx="246.40" cy="321.20" r="3.0"/><circle cx="216.40" cy="300.70" r="3.0"/><circle cx="224.00" cy="304.50" r="3.0"/><circle cx="224.00" cy="315.80" r="3.0"/><circle cx="221.70" cy="315.80" r="3.0"/><circle cx="224.00" cy="321.50" r="3.0"/><circle cx="224.00" cy="326.50" r="3.0"/><circle cx="217.30" cy="325.00" r="3.0"/><circle cx="211.60" cy="332.60" r="3.0"/><circle cx="211.60" cy="335.50" r="3.0"/><circle cx="214.00" cy="330.00" r="3.0"/><circle cx="219.00" cy="327.00" r="3.0"/><circle cx="213.50" cy="333.50" r="3.0"/></g>
<path d="M352.30 192.80 h4.0 M352.60 193.80 h4.0 M352.00 192.00 h4.0 M255.80 291.20 h4.0 M244.70 300.70 h4.0 M244.70 304.10 h4.0 M244.40 321.20 h4.0 M222.00 315.80 h4.0 M219.70 315.80 h4.0 M222.00 321.50 h4.0 M222.00 326.50 h4.0 M215.30 325.00 h4.0 M209.60 332.60 h4.0 M209.60 335.50 h4.0 M212.00 330.00 h4.0 M217.00 327.00 h4.0 M211.50 333.50 h4.0" stroke="#00f000" stroke-width="0.9" stroke-opacity="0.4" fill="none"/>
<path d="M475.10 227.60 V243.60 M473.10 227.60 h4.0 M473.10 243.60 h4.0 M475.10 251.60 V257.60 M473.10 251.60 h4.0 M473.10 257.60 h4.0 M403.60 302.60 V316.50 M401.60 302.60 h4.0 M401.60 316.50 h4.0" stroke="#2222ff" stroke-width="1" fill="none"/>
<g fill="#bcbfc1" stroke="#2222ff" stroke-width="1.0"><circle cx="541.30" cy="192.20" r="3.0"/><circle cx="541.30" cy="197.20" r="3.0"/><circle cx="475.10" cy="243.60" r="3.0"/><circle cx="475.10" cy="251.60" r="3.0"/><circle cx="432.10" cy="301.90" r="3.0"/><circle cx="432.10" cy="305.10" r="3.0"/><circle cx="430.00" cy="304.00" r="3.0"/><circle cx="416.00" cy="318.00" r="3.0"/><circle cx="410.30" cy="325.40" r="3.0"/><circle cx="403.60" cy="316.50" r="3.0"/><circle cx="403.60" cy="323.00" r="3.0"/><circle cx="403.60" cy="326.00" r="3.0"/><circle cx="403.60" cy="329.00" r="3.0"/><circle cx="405.50" cy="327.50" r="3.0"/><circle cx="403.60" cy="331.00" r="3.0"/><circle cx="403.60" cy="336.40" r="3.0"/><circle cx="406.00" cy="324.00" r="3.0"/><circle cx="402.50" cy="324.50" r="3.0"/><circle cx="405.00" cy="330.50" r="3.0"/><circle cx="402.50" cy="333.00" r="3.0"/><circle cx="407.50" cy="326.00" r="3.0"/><circle cx="404.50" cy="321.50" r="3.0"/></g>
<path d="M539.30 192.20 h4.0 M539.30 197.20 h4.0 M430.10 301.90 h4.0 M430.10 305.10 h4.0 M428.00 304.00 h4.0 M414.00 318.00 h4.0 M408.30 325.40 h4.0 M401.60 323.00 h4.0 M401.60 326.00 h4.0 M401.60 329.00 h4.0 M403.50 327.50 h4.0 M401.60 331.00 h4.0 M401.60 336.40 h4.0 M404.00 324.00 h4.0 M400.50 324.50 h4.0 M403.00 330.50 h4.0 M400.50 333.00 h4.0 M405.50 326.00 h4.0 M402.50 321.50 h4.0" stroke="#2222ff" stroke-width="0.9" stroke-opacity="0.4" fill="none"/>
<line x1="27.50" y1="337.10" x2="172.40" y2="192.40" stroke="#111" stroke-width="1.3" stroke-dasharray="3 2.7"/>
<line x1="211.33" y1="337.10" x2="355.00" y2="193.00" stroke="#111" stroke-width="1.3" stroke-dasharray="3 2.7"/>
<line x1="397.50" y1="336.38" x2="542.40" y2="193.12" stroke="#111" stroke-width="1.3" stroke-dasharray="3 2.7"/>
<text x="41.90" y="30.60" font-size="10.3" text-anchor="start" fill="#1a1a1a" stroke="#1a1a1a" stroke-width="0.2" >(a)</text>
<text x="42.20" y="49.30" font-size="11.3" text-anchor="start" fill="#1a1a1a" stroke="#1a1a1a" stroke-width="0.2" textLength="6.9" lengthAdjust="spacingAndGlyphs" >R</text>
<text x="49.60" y="44.00" font-size="7.6" text-anchor="start" fill="#1a1a1a" stroke="#1a1a1a" stroke-width="0.2" textLength="3.4" lengthAdjust="spacingAndGlyphs" >2</text>
<text x="53.70" y="49.30" font-size="11.3" text-anchor="start" fill="#1a1a1a" stroke="#1a1a1a" stroke-width="0.2" textLength="39.3" lengthAdjust="spacingAndGlyphs" >=0.99878</text>
<text x="42.20" y="64.40" font-size="11.4" text-anchor="start" fill="#1a1a1a" stroke="#1a1a1a" stroke-width="0.2" textLength="68.3" lengthAdjust="spacingAndGlyphs" >RMSE=0.37306</text>
<text x="224.60" y="30.60" font-size="10.3" text-anchor="start" fill="#1a1a1a" stroke="#1a1a1a" stroke-width="0.2" >(b)</text>
<text x="224.90" y="49.30" font-size="11.3" text-anchor="start" fill="#1a1a1a" stroke="#1a1a1a" stroke-width="0.2" textLength="6.9" lengthAdjust="spacingAndGlyphs" >R</text>
<text x="232.30" y="44.00" font-size="7.6" text-anchor="start" fill="#1a1a1a" stroke="#1a1a1a" stroke-width="0.2" textLength="3.4" lengthAdjust="spacingAndGlyphs" >2</text>
<text x="236.40" y="49.30" font-size="11.3" text-anchor="start" fill="#1a1a1a" stroke="#1a1a1a" stroke-width="0.2" textLength="39.3" lengthAdjust="spacingAndGlyphs" >=0.99514</text>
<text x="224.90" y="64.40" font-size="11.4" text-anchor="start" fill="#1a1a1a" stroke="#1a1a1a" stroke-width="0.2" textLength="68.3" lengthAdjust="spacingAndGlyphs" >RMSE=0.55319</text>
<text x="411.90" y="30.60" font-size="10.3" text-anchor="start" fill="#1a1a1a" stroke="#1a1a1a" stroke-width="0.2" >(c)</text>
<text x="412.20" y="49.30" font-size="11.3" text-anchor="start" fill="#1a1a1a" stroke="#1a1a1a" stroke-width="0.2" textLength="6.9" lengthAdjust="spacingAndGlyphs" >R</text>
<text x="419.60" y="44.00" font-size="7.6" text-anchor="start" fill="#1a1a1a" stroke="#1a1a1a" stroke-width="0.2" textLength="3.4" lengthAdjust="spacingAndGlyphs" >2</text>
<text x="423.70" y="49.30" font-size="11.3" text-anchor="start" fill="#1a1a1a" stroke="#1a1a1a" stroke-width="0.2" textLength="39.3" lengthAdjust="spacingAndGlyphs" >=0.99859</text>
<text x="412.20" y="64.40" font-size="11.4" text-anchor="start" fill="#1a1a1a" stroke="#1a1a1a" stroke-width="0.2" textLength="68.3" lengthAdjust="spacingAndGlyphs" >RMSE=0.64516</text>
<text x="44.00" y="203.80" font-size="9.5" text-anchor="start" fill="#1a1a1a" stroke="#1a1a1a" stroke-width="0.2" >(d)</text>
<text x="44.00" y="218.70" font-size="10.3" text-anchor="start" fill="#1a1a1a" stroke="#1a1a1a" stroke-width="0.2" textLength="6.1" lengthAdjust="spacingAndGlyphs" >R</text>
<text x="50.60" y="214.00" font-size="7.0" text-anchor="start" fill="#1a1a1a" stroke="#1a1a1a" stroke-width="0.2" textLength="3.0" lengthAdjust="spacingAndGlyphs" >2</text>
<text x="53.90" y="218.70" font-size="10.3" text-anchor="start" fill="#1a1a1a" stroke="#1a1a1a" stroke-width="0.2" textLength="35.1" lengthAdjust="spacingAndGlyphs" >=0.99553</text>
<text x="44.00" y="232.00" font-size="10.3" text-anchor="start" fill="#1a1a1a" stroke="#1a1a1a" stroke-width="0.2" textLength="68.3" lengthAdjust="spacingAndGlyphs" >RMSE=0.31993</text>
<text x="224.90" y="203.80" font-size="9.5" text-anchor="start" fill="#1a1a1a" stroke="#1a1a1a" stroke-width="0.2" >(e)</text>
<text x="224.90" y="218.70" font-size="10.3" text-anchor="start" fill="#1a1a1a" stroke="#1a1a1a" stroke-width="0.2" textLength="6.1" lengthAdjust="spacingAndGlyphs" >R</text>
<text x="231.50" y="214.00" font-size="7.0" text-anchor="start" fill="#1a1a1a" stroke="#1a1a1a" stroke-width="0.2" textLength="3.0" lengthAdjust="spacingAndGlyphs" >2</text>
<text x="234.80" y="218.70" font-size="10.3" text-anchor="start" fill="#1a1a1a" stroke="#1a1a1a" stroke-width="0.2" textLength="35.1" lengthAdjust="spacingAndGlyphs" >=0.95972</text>
<text x="224.90" y="232.00" font-size="10.3" text-anchor="start" fill="#1a1a1a" stroke="#1a1a1a" stroke-width="0.2" textLength="68.3" lengthAdjust="spacingAndGlyphs" >RMSE=0.64516</text>
<text x="417.60" y="203.80" font-size="9.5" text-anchor="start" fill="#1a1a1a" stroke="#1a1a1a" stroke-width="0.2" >(f)</text>
<text x="417.60" y="218.70" font-size="10.3" text-anchor="start" fill="#1a1a1a" stroke="#1a1a1a" stroke-width="0.2" textLength="6.1" lengthAdjust="spacingAndGlyphs" >R</text>
<text x="424.20" y="214.00" font-size="7.0" text-anchor="start" fill="#1a1a1a" stroke="#1a1a1a" stroke-width="0.2" textLength="3.0" lengthAdjust="spacingAndGlyphs" >2</text>
<text x="427.50" y="218.70" font-size="10.3" text-anchor="start" fill="#1a1a1a" stroke="#1a1a1a" stroke-width="0.2" textLength="35.1" lengthAdjust="spacingAndGlyphs" >=0.98268</text>
<text x="417.60" y="232.00" font-size="10.3" text-anchor="start" fill="#1a1a1a" stroke="#1a1a1a" stroke-width="0.2" textLength="72.8" lengthAdjust="spacingAndGlyphs" >RMSE=0.093441</text>
<rect x="134.20" y="125.70" width="32.6" height="28.5" fill="#fff" stroke="#646464" stroke-width="1"/>
<path d="M144.8 128.00 V134.80 M143.0 128.00 h3.6 M143.0 134.80 h3.6" stroke="#ff0000" stroke-width="1.1"/>
<circle cx="144.8" cy="131.40" r="1.7" fill="#bcbfc1" stroke="#ff0000" stroke-width="1"/>
<text x="154.80" y="134.00" font-size="7.2" text-anchor="start" fill="#222" stroke="#222" stroke-width="0.05" >Fe</text>
<path d="M144.8 136.95 V143.75 M143.0 136.95 h3.6 M143.0 143.75 h3.6" stroke="#00f000" stroke-width="1.1"/>
<circle cx="144.8" cy="140.35" r="1.7" fill="#bcbfc1" stroke="#00f000" stroke-width="1"/>
<text x="154.80" y="142.95" font-size="7.2" text-anchor="start" fill="#222" stroke="#222" stroke-width="0.05" >Mg</text>
<path d="M144.8 145.90 V152.70 M143.0 145.90 h3.6 M143.0 152.70 h3.6" stroke="#2222ff" stroke-width="1.1"/>
<circle cx="144.8" cy="149.30" r="1.7" fill="#bcbfc1" stroke="#2222ff" stroke-width="1"/>
<text x="154.80" y="151.90" font-size="7.2" text-anchor="start" fill="#222" stroke="#222" stroke-width="0.05" >Na</text>
<rect x="317.10" y="125.70" width="32.6" height="28.5" fill="#fff" stroke="#646464" stroke-width="1"/>
<path d="M327.7 128.00 V134.80 M325.9 128.00 h3.6 M325.9 134.80 h3.6" stroke="#ff0000" stroke-width="1.1"/>
<circle cx="327.7" cy="131.40" r="1.7" fill="#bcbfc1" stroke="#ff0000" stroke-width="1"/>
<text x="337.70" y="134.00" font-size="7.2" text-anchor="start" fill="#222" stroke="#222" stroke-width="0.05" >Fe</text>
<path d="M327.7 136.95 V143.75 M325.9 136.95 h3.6 M325.9 143.75 h3.6" stroke="#00f000" stroke-width="1.1"/>
<circle cx="327.7" cy="140.35" r="1.7" fill="#bcbfc1" stroke="#00f000" stroke-width="1"/>
<text x="337.70" y="142.95" font-size="7.2" text-anchor="start" fill="#222" stroke="#222" stroke-width="0.05" >Mg</text>
<path d="M327.7 145.90 V152.70 M325.9 145.90 h3.6 M325.9 152.70 h3.6" stroke="#2222ff" stroke-width="1.1"/>
<circle cx="327.7" cy="149.30" r="1.7" fill="#bcbfc1" stroke="#2222ff" stroke-width="1"/>
<text x="337.70" y="151.90" font-size="7.2" text-anchor="start" fill="#222" stroke="#222" stroke-width="0.05" >Na</text>
<rect x="504.70" y="125.70" width="32.6" height="28.5" fill="#fff" stroke="#646464" stroke-width="1"/>
<path d="M515.3 128.00 V134.80 M513.5 128.00 h3.6 M513.5 134.80 h3.6" stroke="#ff0000" stroke-width="1.1"/>
<circle cx="515.3" cy="131.40" r="1.7" fill="#bcbfc1" stroke="#ff0000" stroke-width="1"/>
<text x="525.30" y="134.00" font-size="7.2" text-anchor="start" fill="#222" stroke="#222" stroke-width="0.05" >Fe</text>
<path d="M515.3 136.95 V143.75 M513.5 136.95 h3.6 M513.5 143.75 h3.6" stroke="#00f000" stroke-width="1.1"/>
<circle cx="515.3" cy="140.35" r="1.7" fill="#bcbfc1" stroke="#00f000" stroke-width="1"/>
<text x="525.30" y="142.95" font-size="7.2" text-anchor="start" fill="#222" stroke="#222" stroke-width="0.05" >Mg</text>
<path d="M515.3 145.90 V152.70 M513.5 145.90 h3.6 M513.5 152.70 h3.6" stroke="#2222ff" stroke-width="1.1"/>
<circle cx="515.3" cy="149.30" r="1.7" fill="#bcbfc1" stroke="#2222ff" stroke-width="1"/>
<text x="525.30" y="151.90" font-size="7.2" text-anchor="start" fill="#222" stroke="#222" stroke-width="0.05" >Na</text>
<rect x="136.60" y="321.50" width="31.0" height="11.2" fill="#fff" stroke="#646464" stroke-width="1"/>
<path d="M147.30 323.20 V331.00 M145.60 323.20 h3.4 M145.60 331.00 h3.4" stroke="#ff0000" stroke-width="1.1"/>
<circle cx="147.30" cy="327.10" r="1.7" fill="#bcbfc1" stroke="#ff0000" stroke-width="1"/>
<text x="157.80" y="330.30" font-size="8.0" text-anchor="start" fill="#222" stroke="#222" stroke-width="0.05" textLength="7.8" lengthAdjust="spacingAndGlyphs" >Fe</text>
<rect x="315.20" y="321.50" width="35.0" height="11.2" fill="#fff" stroke="#646464" stroke-width="1"/>
<path d="M325.90 323.20 V331.00 M324.20 323.20 h3.4 M324.20 331.00 h3.4" stroke="#00f000" stroke-width="1.1"/>
<circle cx="325.90" cy="327.10" r="1.7" fill="#bcbfc1" stroke="#00f000" stroke-width="1"/>
<text x="336.40" y="330.30" font-size="8.0" text-anchor="start" fill="#222" stroke="#222" stroke-width="0.05" textLength="11.8" lengthAdjust="spacingAndGlyphs" >Mg</text>
<rect x="505.30" y="321.50" width="32.3" height="11.2" fill="#fff" stroke="#646464" stroke-width="1"/>
<path d="M516.00 323.20 V331.00 M514.30 323.20 h3.4 M514.30 331.00 h3.4" stroke="#2222ff" stroke-width="1.1"/>
<circle cx="516.00" cy="327.10" r="1.7" fill="#bcbfc1" stroke="#2222ff" stroke-width="1"/>
<text x="526.50" y="330.30" font-size="8.0" text-anchor="start" fill="#222" stroke="#222" stroke-width="0.05" textLength="9.1" lengthAdjust="spacingAndGlyphs" >Na</text>
</g></svg>
</body></html>
